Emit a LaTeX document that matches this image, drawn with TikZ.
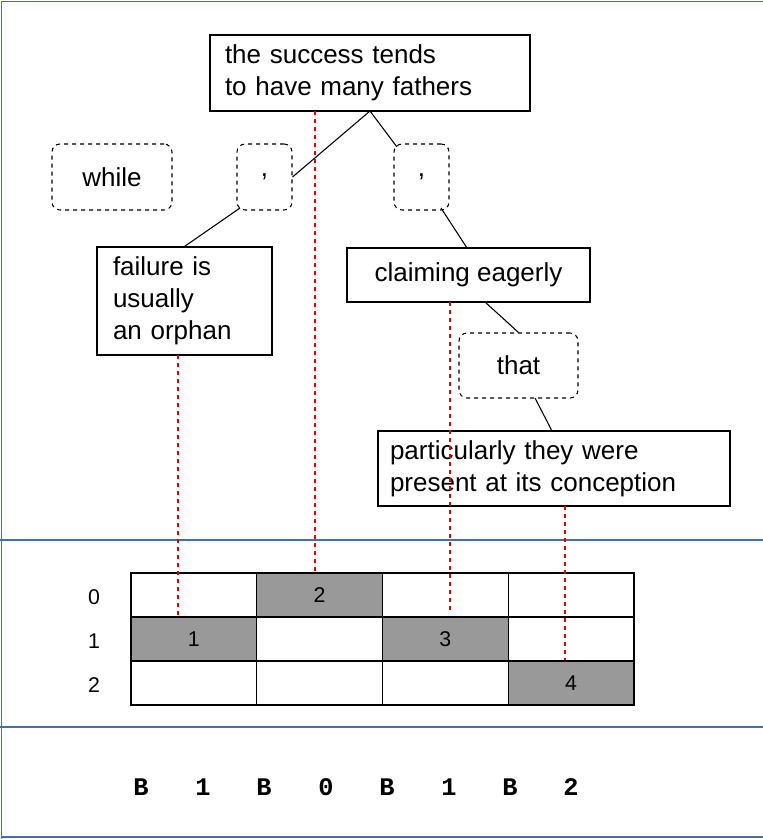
\documentclass[tikz,border=0pt]{standalone}
\usepackage{fontspec}
\setmainfont{Liberation Sans}
\newfontfamily\monofont{Liberation Mono}
\begin{document}
\begin{tikzpicture}[x=0.75pt,y=-0.75pt,
  box/.style={draw,thick,align=left,inner sep=0pt,font=\fontsize{19.5}{24}\selectfont},
  dbox/.style={draw,thick,dashed,rounded corners=6pt,inner sep=0pt,font=\fontsize{19.5}{24}\selectfont},
  link/.style={thick},
  guide/.style={red!85!black,dash pattern=on 3pt off 3pt,thick},
  sep/.style={draw={rgb,255:red,74;green,110;blue,160},thick},
  cell/.style={draw,thick},
  on/.style={cell,fill={rgb,255:red,153;green,153;blue,153}},
  lab/.style={font=\fontsize{16}{18}\selectfont},
  bit/.style={font=\monofont\bfseries\fontsize{19}{21}\selectfont}]
\useasboundingbox (0,0) rectangle (763,839);
% frame
\draw[sep] (1.5,839) -- (1.5,1.5) -- (763,1.5);
\draw[sep] (1.5,837) -- (763,837);
\draw[sep] (0,540) -- (763,540);
\draw[sep] (0,727) -- (763,727);
% tree nodes
\node[box,minimum width=320*0.75pt,minimum height=76*0.75pt,text width=290*0.75pt] (top) at (370,73) {the success tends\\to have many fathers};
\node[dbox,minimum width=120*0.75pt,minimum height=66*0.75pt] (while) at (112,177) {while};
\node[dbox,minimum width=55*0.75pt,minimum height=66*0.75pt] (c1) at (264.5,177) {,};
\node[dbox,minimum width=55*0.75pt,minimum height=66*0.75pt] (c2) at (421.5,177) {,};
\node[box,minimum width=175*0.75pt,minimum height=108*0.75pt,text width=143*0.75pt] (fail) at (184.5,301) {failure is\\usually\\an orphan};
\node[box,minimum width=243*0.75pt,minimum height=54*0.75pt,align=center] (claim) at (468.5,275) {claiming eagerly};
\node[dbox,minimum width=119*0.75pt,minimum height=65*0.75pt] (that) at (518.5,365.5) {that};
\node[box,minimum width=352*0.75pt,minimum height=75*0.75pt,text width=328*0.75pt] (part) at (554,468.5) {particularly they were\\present at its conception};
% links
\coordinate (t1) at (370,111);
\draw[link] (t1) -- (c1.east);
\draw[link] (t1) -- (397,147);
\draw[link] (240,208) -- (fail.north);
\draw[link] (441,208) -- (467,248);
\draw[link] (485,302) -- (that.north);
\draw[link] (535,398) -- (552,431);
% grid
\foreach \r in {0,1,2}{
  \foreach \c in {0,1,2,3}{
    \draw[cell] ({131+125.75*\c},{573+44*\r}) rectangle ++(125.75,44);
  }
  \node[lab] at (94,{597+44*\r}) {\r};
}
\draw[on] (256.75,573) rectangle ++(125.75,44) node[midway,lab] {2};
\draw[on] (131,617) rectangle ++(125.75,44) node[midway,lab] {1};
\draw[on] (382.5,617) rectangle ++(125.75,44) node[midway,lab] {3};
\draw[on] (508.25,661) rectangle ++(125.75,44) node[midway,lab] {4};
% guides
\draw[guide] (315,111) -- (315,573);
\draw[guide] (178,355) -- (178,615);
\draw[guide] (450,302) -- (450,613);
\draw[guide] (565,506) -- (565,660);
% code
\foreach \x/\t in {141/B,203/1,264/B,326/0,387/B,449/1,510/B,571/2}
  \node[bit] at (\x,787) {\t};
\end{tikzpicture}
\end{document}
